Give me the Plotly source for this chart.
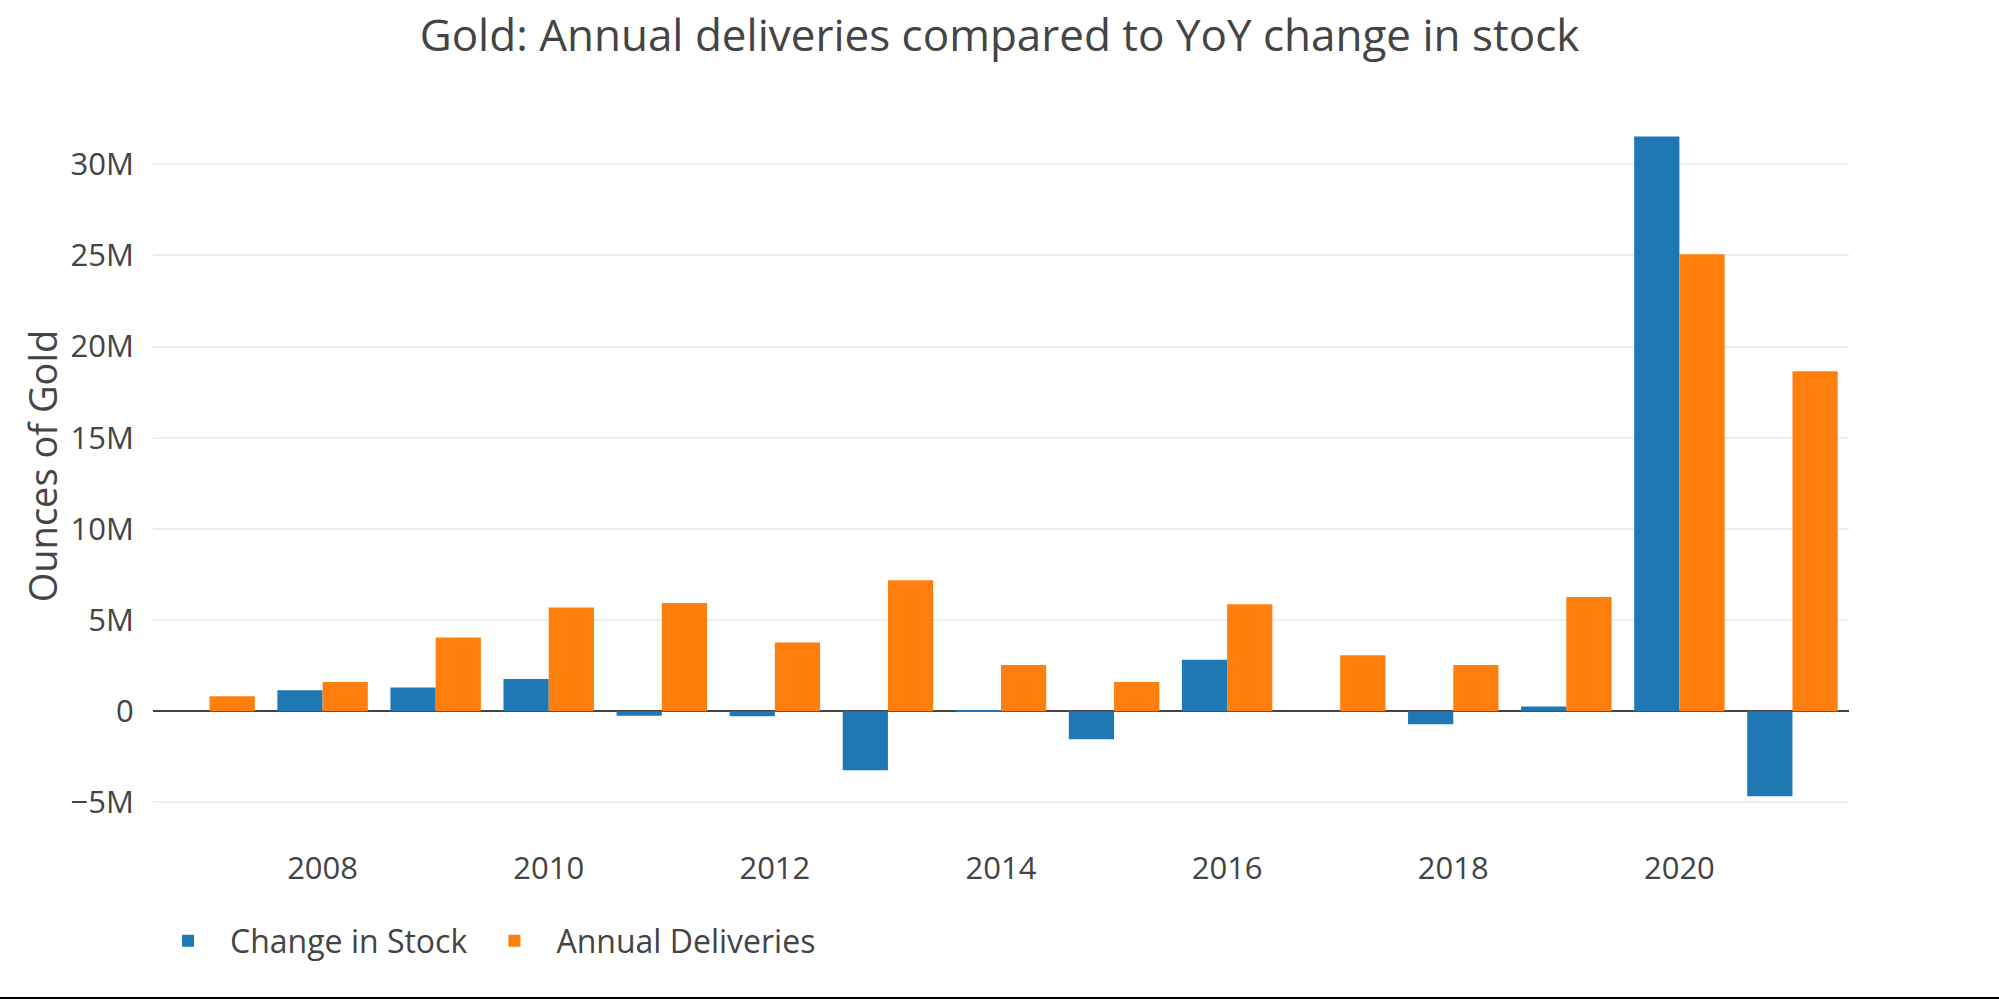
import plotly.graph_objects as go

years = [2007, 2008, 2009, 2010, 2011, 2012, 2013, 2014, 2015, 2016, 2017, 2018, 2019, 2020, 2021]
change_in_stock = [None, 1.15e6, 1.30e6, 1.77e6, -0.24e6, -0.27e6, -3.24e6, 0.05e6, -1.54e6, 2.82e6, 0.0, -0.71e6, 0.26e6, 31.52e6, -4.66e6]
annual_deliveries = [0.82e6, 1.61e6, 4.04e6, 5.69e6, 5.94e6, 3.77e6, 7.18e6, 2.54e6, 1.61e6, 5.87e6, 3.07e6, 2.54e6, 6.27e6, 25.06e6, 18.64e6]

y_tickvals = [-5e6, 0, 5e6, 10e6, 15e6, 20e6, 25e6, 30e6]
y_ticktext = ["−5M", "0", "5M", "10M", "15M", "20M", "25M", "30M"]

fig = go.Figure()
fig.add_trace(go.Bar(x=years, y=change_in_stock, name="Change in Stock", marker_color="#1f77b4"))
fig.add_trace(go.Bar(x=years, y=annual_deliveries, name="Annual Deliveries", marker_color="#ff7f0e"))

fig.update_layout(
    width=1999, height=1000,
    barmode="group",
    font=dict(family="Open Sans", size=31, color="#444"),
    title=dict(text="Gold: Annual deliveries compared to YoY change in stock",
               x=0.5, xref="container", y=0.964, yref="container", yanchor="middle",
               font=dict(size=44, color="#444")),
    paper_bgcolor="white", plot_bgcolor="white",
    margin=dict(l=153, r=150, t=104, b=172),
    xaxis=dict(showgrid=False, zeroline=False, dtick=2, tick0=2008,
               ticks="outside", ticklen=13, tickcolor="rgba(0,0,0,0)", showline=False),
    yaxis=dict(title=dict(text="Ounces of Gold", font=dict(size=38)), gridcolor="#eee", gridwidth=1.5,
               zeroline=True, zerolinecolor="#444", zerolinewidth=1.5,
               ticks="outside", ticklen=12, tickcolor="rgba(0,0,0,0)",
               range=[-6.4e6, 33.3e6], tickvals=y_tickvals, ticktext=y_ticktext),
    legend=dict(orientation="h", x=-0.0041, xanchor="left", y=-0.156, yanchor="middle",
                itemwidth=74, font=dict(size=32)),
    shapes=[dict(type="line", xref="paper", yref="paper",
                 x0=-153 / 1696, x1=1846 / 1696, y0=-170 / 724, y1=-170 / 724,
                 line=dict(color="black", width=2))],
    template="none",
)
fig.write_html("out.html")
